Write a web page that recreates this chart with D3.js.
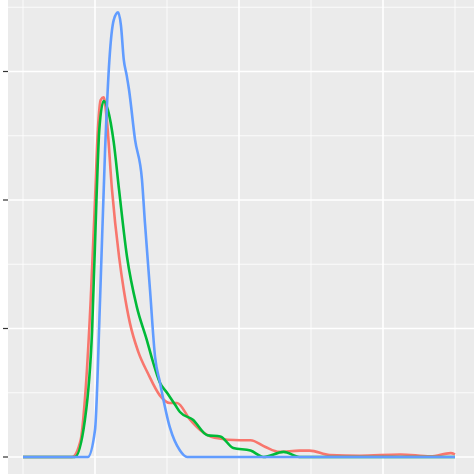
<!DOCTYPE html><html><head><script src="https://cdn.jsdelivr.net/npm/d3@7"></script>
<style>body{margin:0;background:#fff}</style></head><body><svg id="c" width="474" height="474"></svg>
<script>
const yTicks=[0,1,2,3];
const xMajor=[0.5,1.5,2.5];
const xMinor=[0,1,2,3];
const red=[[0,0],[0.34,0],[0.40,0.13],[0.43,0.45],[0.47,1.22],[0.50,2.0],[0.52,2.55],[0.54,2.78],[0.56,2.80],[0.58,2.65],[0.618,2.08],[0.667,1.56],[0.70,1.30],[0.743,1.04],[0.80,0.82],[0.868,0.65],[0.95,0.48],[1.02,0.42],[1.07,0.42],[1.16,0.29],[1.23,0.21],[1.33,0.15],[1.51,0.13],[1.58,0.13],[1.68,0.08],[1.78,0.04],[1.92,0.05],[1.99,0.05],[2.13,0.015],[2.34,0.01],[2.62,0.02],[2.83,0.005],[2.97,0.03],[3.0,0.02]];
const green=[[0,0],[0.36,0],[0.43,0.29],[0.48,0.99],[0.51,2.0],[0.53,2.55],[0.56,2.77],[0.59,2.70],[0.63,2.45],[0.667,2.08],[0.722,1.56],[0.79,1.17],[0.86,0.91],[0.90,0.75],[0.95,0.58],[1.0,0.50],[1.06,0.40],[1.09,0.35],[1.18,0.29],[1.28,0.17],[1.37,0.16],[1.46,0.07],[1.58,0.05],[1.67,0],[1.81,0.04],[1.92,0],[3,0]];
const blue=[[0,0],[0.45,0],[0.50,0.21],[0.535,1.22],[0.57,2.39],[0.60,3.09],[0.63,3.40],[0.66,3.46],[0.68,3.36],[0.70,3.09],[0.72,2.97],[0.736,2.86],[0.778,2.47],[0.826,2.16],[0.847,1.82],[0.882,1.30],[0.917,0.78],[0.951,0.58],[1.02,0.23],[1.09,0.05],[1.14,0],[3,0]];
const svg=d3.select('#c');
const x=d3.scaleLinear().domain([0,3]).range([23,455]);
const y=d3.scaleLinear().domain([0,3]).range([457,71.5]);
svg.append('rect').attr('x',8).attr('y',0).attr('width',466).attr('height',474).attr('fill','#EBEBEB');
const minorY=[0.5,1.5,2.5,3.5];
minorY.forEach(v=>svg.append('line').attr('x1',8).attr('x2',474).attr('y1',y(v)).attr('y2',y(v)).attr('stroke','#fff').attr('stroke-width',0.8));
xMinor.forEach(v=>svg.append('line').attr('x1',x(v)).attr('x2',x(v)).attr('y1',0).attr('y2',474).attr('stroke','#fff').attr('stroke-width',0.8));
yTicks.forEach(v=>{svg.append('line').attr('x1',8).attr('x2',474).attr('y1',y(v)).attr('y2',y(v)).attr('stroke','#fff').attr('stroke-width',1.6);
 svg.append('line').attr('x1',3).attr('x2',8).attr('y1',y(v)).attr('y2',y(v)).attr('stroke','#333').attr('stroke-width',1.2);});
xMajor.forEach(v=>svg.append('line').attr('x1',x(v)).attr('x2',x(v)).attr('y1',0).attr('y2',474).attr('stroke','#fff').attr('stroke-width',1.6));
const line=d3.line().x(d=>x(d[0])).y(d=>y(d[1])).curve(d3.curveMonotoneX);
[[red,'#F8766D'],[green,'#00BA38'],[blue,'#619CFF']].forEach(([d,c])=>svg.append('path').attr('d',line(d)).attr('fill','none').attr('stroke',c).attr('stroke-width',2.6));
</script></body></html>
